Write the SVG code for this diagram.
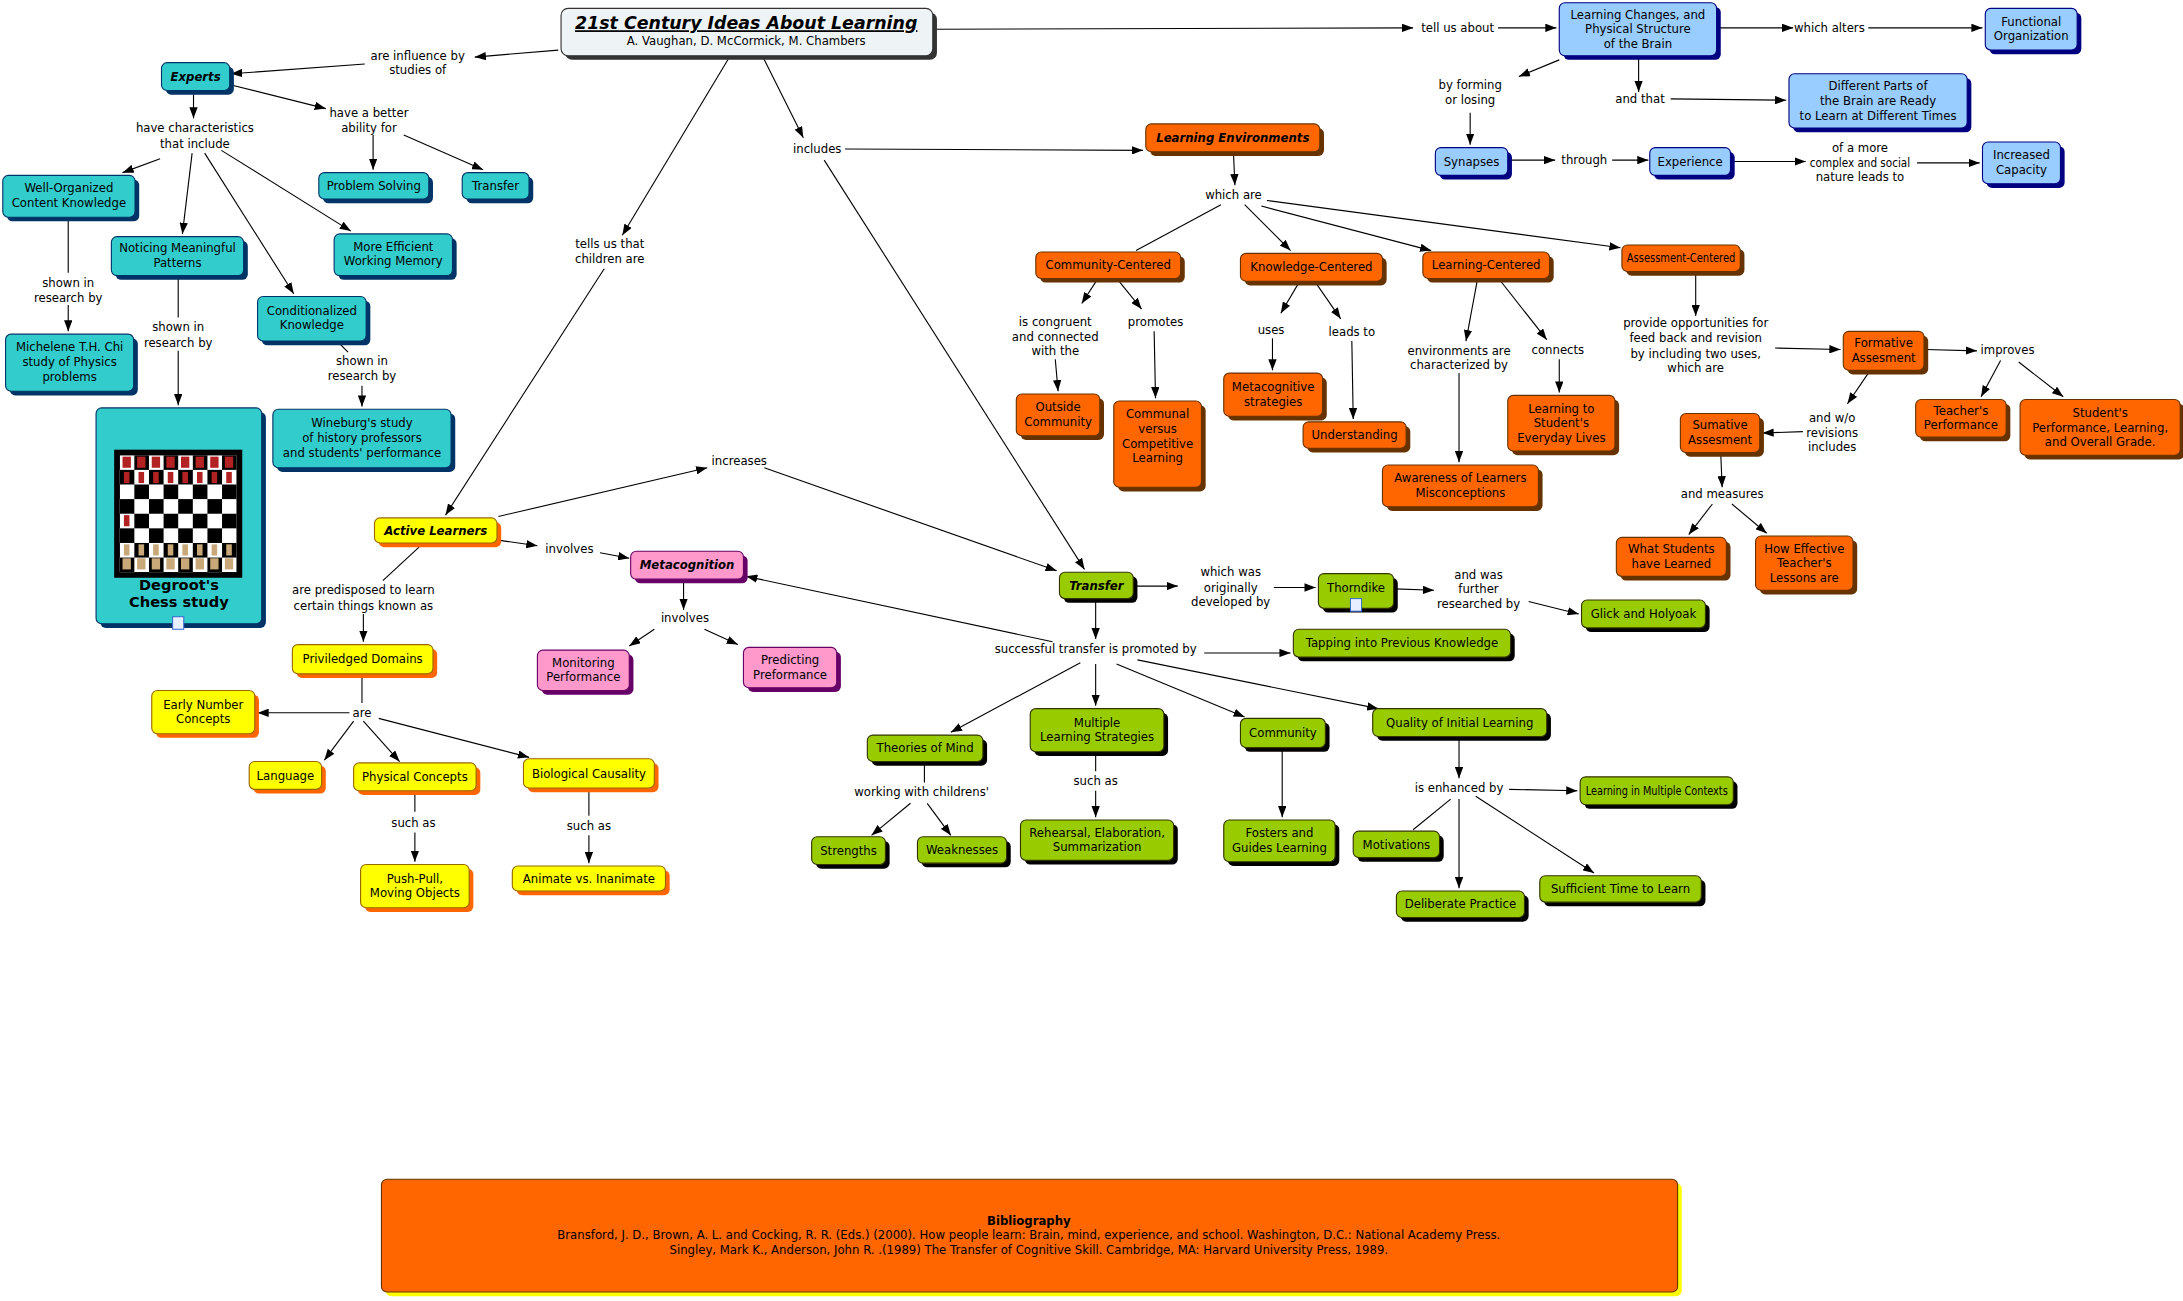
<svg xmlns="http://www.w3.org/2000/svg" width="2183" height="1301" viewBox="0 0 2183 1301">
<defs>
<marker id="a" markerUnits="userSpaceOnUse" markerWidth="8" markerHeight="6" refX="8" refY="3" orient="auto"><path d="M0,0 L8,3 L0,6 z" fill="#000"/></marker>
<pattern id="chk" x="86" y="327" width="21" height="21" patternUnits="userSpaceOnUse"><rect width="21" height="21" fill="#000"/><rect width="10.5" height="10.5" fill="#fff"/><rect x="10.5" y="10.5" width="10.5" height="10.5" fill="#fff"/></pattern>
</defs>
<style>
text{font-family:"DejaVu Sans","Verdana",sans-serif;font-size:8.4px;text-anchor:middle;fill:#000}
.bi{font-weight:bold;font-style:italic}
rect.n{stroke-width:0.8}
.t .n{fill:#33CCCC;stroke:#003366}.t .s{fill:#003366}
.b .n{fill:#99CCFF;stroke:#000080}.b .s{fill:#000080}
.o .n{fill:#FF6600;stroke:#663300}.o .s{fill:#663300}
.y .n{fill:#FFFF00;stroke:#996600}.y .s{fill:#FF6600}
.p .n{fill:#FF99CC;stroke:#660066}.p .s{fill:#660066}
.g .n{fill:#99CC00;stroke:#333300}.g .s{fill:#000}
#conn line{stroke:#000;stroke-width:0.8}
#conn line.ar{marker-end:url(#a)}
</style>
<rect width="2183" height="1301" fill="#fff"/>
<g transform="scale(1.3922)">
<g id="conn">
<line class="ar" x1="401" y1="36" x2="341" y2="41"/><line class="ar" x1="262" y1="46" x2="166" y2="53"/>
<line class="ar" x1="670" y1="21" x2="1015" y2="20"/><line class="ar" x1="1076" y1="20" x2="1118" y2="20"/>
<line class="ar" x1="1234" y1="20" x2="1288" y2="20"/><line class="ar" x1="1342" y1="20" x2="1424" y2="20"/>
<line class="ar" x1="1120" y1="43" x2="1091" y2="55"/><line class="ar" x1="1056" y1="81" x2="1056" y2="104"/>
<line class="ar" x1="1177" y1="41" x2="1177" y2="66"/><line class="ar" x1="1200" y1="71" x2="1283" y2="72"/>
<line class="ar" x1="1084" y1="115" x2="1117" y2="115"/><line class="ar" x1="1158" y1="115" x2="1184" y2="115"/>
<line class="ar" x1="1244" y1="116" x2="1297" y2="116"/><line class="ar" x1="1377" y1="117" x2="1422" y2="117"/>
<line class="ar" x1="548" y1="41" x2="577" y2="99"/><line class="ar" x1="607" y1="107" x2="821" y2="108"/>
<line class="ar" x1="592" y1="115" x2="779" y2="409"/>
<line class="ar" x1="524" y1="41" x2="447" y2="169"/><line class="ar" x1="434" y1="193" x2="320" y2="370"/>
<line class="ar" x1="139" y1="66" x2="139" y2="85"/>
<line class="ar" x1="166" y1="61" x2="234" y2="78"/>
<line class="ar" x1="268" y1="97" x2="268" y2="122"/><line class="ar" x1="290" y1="97" x2="347" y2="122"/>
<line class="ar" x1="115" y1="114" x2="88" y2="124"/><line class="ar" x1="138" y1="110" x2="131" y2="168"/>
<line class="ar" x1="147" y1="110" x2="211" y2="211"/><line class="ar" x1="159" y1="108" x2="252" y2="166"/>
<line x1="49" y1="157" x2="49" y2="196"/><line class="ar" x1="49" y1="219" x2="49" y2="238"/>
<line x1="128" y1="199" x2="128" y2="228"/><line class="ar" x1="128" y1="252" x2="128" y2="291"/>
<line x1="243" y1="246" x2="250" y2="253"/><line class="ar" x1="260" y1="277" x2="260" y2="292"/>
<line class="ar" x1="358" y1="371" x2="508" y2="336"/><line class="ar" x1="549" y1="336" x2="759" y2="410"/>
<line class="ar" x1="358" y1="388" x2="386" y2="392"/><line class="ar" x1="431" y1="397" x2="452" y2="401"/>
<line x1="301" y1="393" x2="275" y2="417"/><line class="ar" x1="261" y1="441" x2="261" y2="461"/>
<line class="ar" x1="491" y1="417" x2="491" y2="438"/><line class="ar" x1="470" y1="452" x2="452" y2="464"/><line class="ar" x1="506" y1="452" x2="530" y2="463"/>
<line x1="260" y1="485" x2="260" y2="505"/><line class="ar" x1="251" y1="512" x2="185" y2="512"/>
<line class="ar" x1="254" y1="518" x2="233" y2="546"/><line class="ar" x1="261" y1="518" x2="287" y2="547"/><line class="ar" x1="272" y1="516" x2="380" y2="544"/>
<line x1="298" y1="569" x2="298" y2="583"/><line class="ar" x1="298" y1="598" x2="298" y2="619"/>
<line x1="423" y1="567" x2="423" y2="586"/><line class="ar" x1="423" y1="600" x2="423" y2="620"/>
<line class="ar" x1="756" y1="461" x2="536" y2="414"/>
<line class="ar" x1="787" y1="431" x2="787" y2="459"/>
<line class="ar" x1="815" y1="421" x2="846" y2="421"/><line class="ar" x1="915" y1="422" x2="945" y2="422"/>
<line class="ar" x1="1002" y1="423" x2="1030" y2="424"/><line class="ar" x1="1098" y1="432" x2="1134" y2="441"/>
<line class="ar" x1="865" y1="469" x2="927" y2="469"/>
<line class="ar" x1="776" y1="476" x2="683" y2="526"/><line class="ar" x1="787" y1="477" x2="787" y2="507"/>
<line class="ar" x1="802" y1="477" x2="894" y2="515"/><line class="ar" x1="817" y1="474" x2="990" y2="509"/>
<line x1="664" y1="548" x2="664" y2="562"/><line class="ar" x1="654" y1="577" x2="626" y2="600"/><line class="ar" x1="666" y1="577" x2="683" y2="600"/>
<line x1="787" y1="541" x2="787" y2="554"/><line class="ar" x1="787" y1="568" x2="787" y2="587"/>
<line class="ar" x1="921" y1="538" x2="921" y2="587"/>
<line class="ar" x1="1048" y1="530" x2="1048" y2="559"/><line class="ar" x1="1084" y1="567" x2="1133" y2="568"/>
<line x1="1042" y1="574" x2="1015" y2="596"/><line class="ar" x1="1048" y1="574" x2="1048" y2="638"/><line class="ar" x1="1060" y1="572" x2="1145" y2="627"/>
<line class="ar" x1="886" y1="110" x2="887" y2="133"/>
<line x1="877" y1="147" x2="816" y2="180"/><line class="ar" x1="894" y1="147" x2="927" y2="180"/>
<line class="ar" x1="906" y1="148" x2="1028" y2="180"/><line class="ar" x1="910" y1="144" x2="1164" y2="178"/>
<line class="ar" x1="788" y1="201" x2="777" y2="218"/><line class="ar" x1="758" y1="258" x2="760" y2="281"/>
<line class="ar" x1="803" y1="201" x2="820" y2="222"/><line class="ar" x1="829" y1="238" x2="830" y2="286"/>
<line class="ar" x1="933" y1="203" x2="920" y2="225"/><line class="ar" x1="914" y1="243" x2="914" y2="266"/>
<line class="ar" x1="945" y1="203" x2="963" y2="229"/><line class="ar" x1="971" y1="245" x2="972" y2="301"/>
<line class="ar" x1="1061" y1="202" x2="1053" y2="245"/><line class="ar" x1="1048" y1="268" x2="1048" y2="332"/>
<line class="ar" x1="1078" y1="202" x2="1111" y2="244"/><line class="ar" x1="1120" y1="258" x2="1120" y2="282"/>
<line class="ar" x1="1218" y1="197" x2="1218" y2="227"/><line class="ar" x1="1275" y1="250" x2="1322" y2="251"/>
<line class="ar" x1="1383" y1="251" x2="1420" y2="252"/><line class="ar" x1="1437" y1="259" x2="1423" y2="285"/><line class="ar" x1="1450" y1="260" x2="1482" y2="285"/>
<line class="ar" x1="1342" y1="268" x2="1327" y2="290"/><line class="ar" x1="1295" y1="310" x2="1266" y2="311"/>
<line class="ar" x1="1236" y1="326" x2="1237" y2="350"/><line class="ar" x1="1230" y1="362" x2="1213" y2="384"/><line class="ar" x1="1244" y1="362" x2="1269" y2="383"/>
</g>
<g id="labels">
<text x="300" y="43">are influence by</text><text x="300" y="53">studies of</text>
<text x="1047" y="23">tell us about</text>
<text x="1314" y="23">which alters</text>
<text x="1056" y="64">by forming</text><text x="1056" y="75">or losing</text>
<text x="1178" y="74">and that</text>
<text x="1138" y="118">through</text>
<text x="1336" y="109">of a more</text><text x="1336" y="120" textLength="72" lengthAdjust="spacingAndGlyphs">complex and social</text><text x="1336" y="130">nature leads to</text>
<text x="587" y="110">includes</text>
<text x="438" y="178">tells us that</text><text x="438" y="189">children are</text>
<text x="140" y="95">have characteristics</text><text x="140" y="106">that include</text>
<text x="265" y="84">have a better</text><text x="265" y="95">ability for</text>
<text x="49" y="206">shown in</text><text x="49" y="217">research by</text>
<text x="128" y="238">shown in</text><text x="128" y="249">research by</text>
<text x="260" y="262">shown in</text><text x="260" y="273">research by</text>
<text x="531" y="334">increases</text>
<text x="409" y="397">involves</text>
<text x="261" y="427">are predisposed to learn</text><text x="261" y="438">certain things known as</text>
<text x="492" y="447">involves</text>
<text x="260" y="515">are</text>
<text x="297" y="594">such as</text>
<text x="423" y="596">such as</text>
<text x="787" y="469">successful transfer is promoted by</text>
<text x="884" y="414">which was</text><text x="884" y="425">originally</text><text x="884" y="435">developed by</text>
<text x="1062" y="416">and was</text><text x="1062" y="426">further</text><text x="1062" y="437">researched by</text>
<text x="662" y="572">working with childrens'</text>
<text x="787" y="564">such as</text>
<text x="1048" y="569">is enhanced by</text>
<text x="886" y="143">which are</text>
<text x="758" y="234">is congruent</text><text x="758" y="245">and connected</text><text x="758" y="255">with the</text>
<text x="830" y="234">promotes</text>
<text x="913" y="240">uses</text>
<text x="971" y="241">leads to</text>
<text x="1048" y="255">environments are</text><text x="1048" y="265">characterized by</text>
<text x="1119" y="254">connects</text>
<text x="1218" y="235">provide opportunities for</text><text x="1218" y="246">feed back and revision</text><text x="1218" y="257">by including two uses,</text><text x="1218" y="267">which are</text>
<text x="1442" y="254">improves</text>
<text x="1316" y="303">and w/o</text><text x="1316" y="314">revisions</text><text x="1316" y="324">includes</text>
<text x="1237" y="358">and measures</text>
</g>
<g id="title"><rect x="406" y="9" width="267" height="34" rx="5" fill="#333"/><rect x="403" y="6" width="267" height="34" rx="5" fill="#EEF4F6" stroke="#333" stroke-width="0.8"/>
<text x="536" y="21" class="bi" style="font-size:12.5px;text-decoration:underline">21st Century Ideas About Learning</text><text x="536" y="32">A. Vaughan, D. McCormick, M. Chambers</text></g>
<g id="experts" class="t"><rect class="s" x="119" y="48" width="49" height="20" rx="4"/><rect class="n" x="116" y="45" width="49" height="20" rx="4"/><text x="140.5" y="58" class="bi">Experts</text></g>
<g id="wock" class="t"><rect class="s" x="5" y="129" width="95" height="30" rx="4"/><rect class="n" x="2" y="126" width="95" height="30" rx="4"/><text x="49.5" y="138">Well-Organized</text><text x="49.5" y="148.5">Content Knowledge</text></g>
<g id="noticing" class="t"><rect class="s" x="83" y="173" width="95" height="28" rx="4"/><rect class="n" x="80" y="170" width="95" height="28" rx="4"/><text x="127.5" y="181">Noticing Meaningful</text><text x="127.5" y="191.5">Patterns</text></g>
<g id="moreeff" class="t"><rect class="s" x="243" y="171" width="85" height="30" rx="4"/><rect class="n" x="240" y="168" width="85" height="30" rx="4"/><text x="282.5" y="180">More Efficient</text><text x="282.5" y="190.5">Working Memory</text></g>
<g id="cond" class="t"><rect class="s" x="188" y="216" width="78" height="32" rx="4"/><rect class="n" x="185" y="213" width="78" height="32" rx="4"/><text x="224" y="226">Conditionalized</text><text x="224" y="236.5">Knowledge</text></g>
<g id="probsolv" class="t"><rect class="s" x="232" y="127" width="79" height="19" rx="4"/><rect class="n" x="229" y="124" width="79" height="19" rx="4"/><text x="268.5" y="136.5">Problem Solving</text></g>
<g id="transfer1" class="t"><rect class="s" x="335" y="127" width="48" height="19" rx="4"/><rect class="n" x="332" y="124" width="48" height="19" rx="4"/><text x="356" y="136.5">Transfer</text></g>
<g id="chi" class="t"><rect class="s" x="7" y="243" width="92" height="41" rx="4"/><rect class="n" x="4" y="240" width="92" height="41" rx="4"/><text x="50" y="252">Michelene T.H. Chi</text><text x="50" y="263">study of Physics</text><text x="50" y="273.5">problems</text></g>
<g id="degroot" class="t"><rect class="s" x="72" y="296" width="119" height="155" rx="4"/><rect class="n" x="69" y="293" width="119" height="155" rx="4"/>
<rect x="82" y="323" width="92" height="92" fill="#000"/><rect x="86" y="327" width="84" height="84" fill="url(#chk)"/>
<g fill="#B22222"><rect x="88" y="328" width="6" height="8"/><rect x="98.5" y="328" width="6" height="8"/><rect x="109" y="328" width="6" height="8"/><rect x="119.5" y="328" width="6" height="8"/><rect x="130" y="328" width="6" height="8"/><rect x="140.5" y="328" width="6" height="8"/><rect x="151" y="328" width="6" height="8"/><rect x="161.5" y="328" width="6" height="8"/>
<rect x="89" y="339" width="4" height="8"/><rect x="99.5" y="339" width="4" height="8"/><rect x="110" y="339" width="4" height="8"/><rect x="120.5" y="339" width="4" height="8"/><rect x="131" y="339" width="4" height="8"/><rect x="141.5" y="339" width="4" height="8"/><rect x="152" y="339" width="4" height="8"/><rect x="162.5" y="339" width="4" height="8"/><rect x="89" y="370" width="4" height="8"/></g>
<g fill="#C8A878"><rect x="88" y="401" width="6" height="8"/><rect x="98.5" y="401" width="6" height="8"/><rect x="109" y="401" width="6" height="8"/><rect x="119.5" y="401" width="6" height="8"/><rect x="130" y="401" width="6" height="8"/><rect x="140.5" y="401" width="6" height="8"/><rect x="151" y="401" width="6" height="8"/><rect x="161.5" y="401" width="6" height="8"/>
<rect x="89" y="391" width="4" height="8"/><rect x="99.5" y="391" width="4" height="8"/><rect x="110" y="391" width="4" height="8"/><rect x="120.5" y="391" width="4" height="8"/><rect x="131" y="391" width="4" height="8"/><rect x="141.5" y="391" width="4" height="8"/><rect x="152" y="391" width="4" height="8"/><rect x="162.5" y="391" width="4" height="8"/></g>
<text x="128.5" y="424" style="font-weight:bold;font-size:10.5px">Degroot's</text><text x="128.5" y="436" style="font-weight:bold;font-size:10.5px">Chess study</text>
<rect x="124" y="443" width="8" height="9" fill="#E8F0FF" stroke="#3366CC" stroke-width="0.7"/></g>
<g id="wineburg" class="t"><rect class="s" x="199" y="297" width="128" height="42" rx="4"/><rect class="n" x="196" y="294" width="128" height="42" rx="4"/><text x="260" y="306.5">Wineburg's study</text><text x="260" y="317.5">of history professors</text><text x="260" y="328">and students' performance</text></g>
<g id="active" class="y"><rect class="s" x="272" y="375" width="88" height="18" rx="4"/><rect class="n" x="269" y="372" width="88" height="18" rx="4"/><text x="313" y="384.5" class="bi">Active Learners</text></g>
<g id="metacog" class="p"><rect class="s" x="456" y="399" width="81" height="20" rx="4"/><rect class="n" x="453" y="396" width="81" height="20" rx="4"/><text x="493.5" y="409" class="bi">Metacognition</text></g>
<g id="monitor" class="p"><rect class="s" x="389" y="470" width="66" height="29" rx="4"/><rect class="n" x="386" y="467" width="66" height="29" rx="4"/><text x="419" y="479">Monitoring</text><text x="419" y="489.5">Performance</text></g>
<g id="predict" class="p"><rect class="s" x="537" y="468" width="67" height="29" rx="4"/><rect class="n" x="534" y="465" width="67" height="29" rx="4"/><text x="567.5" y="477">Predicting</text><text x="567.5" y="487.5">Preformance</text></g>
<g id="priv" class="y"><rect class="s" x="213" y="466" width="101" height="21" rx="4"/><rect class="n" x="210" y="463" width="101" height="21" rx="4"/><text x="260.5" y="476.5">Priviledged Domains</text></g>
<g id="early" class="y"><rect class="s" x="112" y="499" width="74" height="31" rx="4"/><rect class="n" x="109" y="496" width="74" height="31" rx="4"/><text x="146" y="509">Early Number</text><text x="146" y="519.5">Concepts</text></g>
<g id="language" class="y"><rect class="s" x="182" y="550" width="52" height="20" rx="4"/><rect class="n" x="179" y="547" width="52" height="20" rx="4"/><text x="205" y="560">Language</text></g>
<g id="physc" class="y"><rect class="s" x="257" y="551" width="88" height="20" rx="4"/><rect class="n" x="254" y="548" width="88" height="20" rx="4"/><text x="298" y="561">Physical Concepts</text></g>
<g id="bioc" class="y"><rect class="s" x="379" y="548" width="94" height="21" rx="4"/><rect class="n" x="376" y="545" width="94" height="21" rx="4"/><text x="423" y="558.5">Biological Causality</text></g>
<g id="pushpull" class="y"><rect class="s" x="262" y="624" width="78" height="31" rx="4"/><rect class="n" x="259" y="621" width="78" height="31" rx="4"/><text x="298" y="634">Push-Pull,</text><text x="298" y="644.5">Moving Objects</text></g>
<g id="animate" class="y"><rect class="s" x="371" y="625" width="110" height="18" rx="4"/><rect class="n" x="368" y="622" width="110" height="18" rx="4"/><text x="423" y="634">Animate vs. Inanimate</text></g>
<g id="lcb" class="b"><rect class="s" x="1123" y="5" width="113" height="38" rx="4"/><rect class="n" x="1120" y="2" width="113" height="38" rx="4"/><text x="1176.5" y="13.5">Learning Changes, and</text><text x="1176.5" y="24">Physical Structure</text><text x="1176.5" y="34.5">of the Brain</text></g>
<g id="funcorg" class="b"><rect class="s" x="1429" y="9" width="66" height="30" rx="4"/><rect class="n" x="1426" y="6" width="66" height="30" rx="4"/><text x="1459" y="18.5">Functional</text><text x="1459" y="29">Organization</text></g>
<g id="diffparts" class="b"><rect class="s" x="1288" y="56" width="128" height="39" rx="4"/><rect class="n" x="1285" y="53" width="128" height="39" rx="4"/><text x="1349" y="65">Different Parts of</text><text x="1349" y="75.5">the Brain are Ready</text><text x="1349" y="86">to Learn at Different Times</text></g>
<g id="synapses" class="b"><rect class="s" x="1034" y="109" width="52" height="20" rx="4"/><rect class="n" x="1031" y="106" width="52" height="20" rx="4"/><text x="1057" y="119">Synapses</text></g>
<g id="experience" class="b"><rect class="s" x="1188" y="109" width="58" height="20" rx="4"/><rect class="n" x="1185" y="106" width="58" height="20" rx="4"/><text x="1214" y="119">Experience</text></g>
<g id="inccap" class="b"><rect class="s" x="1427" y="105" width="56" height="30" rx="4"/><rect class="n" x="1424" y="102" width="56" height="30" rx="4"/><text x="1452" y="114.5">Increased</text><text x="1452" y="125">Capacity</text></g>
<g id="learnenv" class="o"><rect class="s" x="826" y="92" width="125" height="20" rx="4"/><rect class="n" x="823" y="89" width="125" height="20" rx="4"/><text x="885.5" y="102" class="bi">Learning Environments</text></g>
<g id="cc" class="o"><rect class="s" x="747" y="184" width="104" height="19" rx="4"/><rect class="n" x="744" y="181" width="104" height="19" rx="4"/><text x="796" y="193.5">Community-Centered</text></g>
<g id="kc" class="o"><rect class="s" x="894" y="185" width="102" height="20" rx="4"/><rect class="n" x="891" y="182" width="102" height="20" rx="4"/><text x="942" y="195">Knowledge-Centered</text></g>
<g id="lrnc" class="o"><rect class="s" x="1025" y="184" width="91" height="19" rx="4"/><rect class="n" x="1022" y="181" width="91" height="19" rx="4"/><text x="1067.5" y="193.5">Learning-Centered</text></g>
<g id="ac" class="o"><rect class="s" x="1168" y="179" width="85" height="19" rx="4"/><rect class="n" x="1165" y="176" width="85" height="19" rx="4"/><text x="1207.5" y="188.5" textLength="78" lengthAdjust="spacingAndGlyphs">Assessment-Centered</text></g>
<g id="outside" class="o"><rect class="s" x="733" y="286" width="60" height="30" rx="4"/><rect class="n" x="730" y="283" width="60" height="30" rx="4"/><text x="760" y="295.5">Outside</text><text x="760" y="306">Community</text></g>
<g id="communal" class="o"><rect class="s" x="803" y="291" width="63" height="62" rx="4"/><rect class="n" x="800" y="288" width="63" height="62" rx="4"/><text x="831.5" y="300.5">Communal</text><text x="831.5" y="311">versus</text><text x="831.5" y="321.5">Competitive</text><text x="831.5" y="332">Learning</text></g>
<g id="mstrat" class="o"><rect class="s" x="882" y="271" width="71" height="31" rx="4"/><rect class="n" x="879" y="268" width="71" height="31" rx="4"/><text x="914.5" y="281">Metacognitive</text><text x="914.5" y="291.5">strategies</text></g>
<g id="understanding" class="o"><rect class="s" x="939" y="306" width="74" height="19" rx="4"/><rect class="n" x="936" y="303" width="74" height="19" rx="4"/><text x="973" y="315.5">Understanding</text></g>
<g id="awareness" class="o"><rect class="s" x="996" y="337" width="112" height="30" rx="4"/><rect class="n" x="993" y="334" width="112" height="30" rx="4"/><text x="1049" y="346.5">Awareness of Learners</text><text x="1049" y="357">Misconceptions</text></g>
<g id="learnto" class="o"><rect class="s" x="1086" y="287" width="77" height="40" rx="4"/><rect class="n" x="1083" y="284" width="77" height="40" rx="4"/><text x="1121.5" y="296.5">Learning to</text><text x="1121.5" y="307">Student's</text><text x="1121.5" y="317.5">Everyday Lives</text></g>
<g id="formative" class="o"><rect class="s" x="1327" y="241" width="58" height="28" rx="4"/><rect class="n" x="1324" y="238" width="58" height="28" rx="4"/><text x="1353" y="249.5">Formative</text><text x="1353" y="260">Assesment</text></g>
<g id="sumative" class="o"><rect class="s" x="1210" y="300" width="57" height="28" rx="4"/><rect class="n" x="1207" y="297" width="57" height="28" rx="4"/><text x="1235.5" y="308.5">Sumative</text><text x="1235.5" y="319">Assesment</text></g>
<g id="teachp" class="o"><rect class="s" x="1379" y="290" width="65" height="27" rx="4"/><rect class="n" x="1376" y="287" width="65" height="27" rx="4"/><text x="1408.5" y="298">Teacher's</text><text x="1408.5" y="308.5">Performance</text></g>
<g id="studp" class="o"><rect class="s" x="1454" y="290" width="115" height="40" rx="4"/><rect class="n" x="1451" y="287" width="115" height="40" rx="4"/><text x="1508.5" y="299.5">Student's</text><text x="1508.5" y="310">Performance, Learning,</text><text x="1508.5" y="320.5">and Overall Grade.</text></g>
<g id="whats" class="o"><rect class="s" x="1164" y="389" width="79" height="28" rx="4"/><rect class="n" x="1161" y="386" width="79" height="28" rx="4"/><text x="1200.5" y="397.5">What Students</text><text x="1200.5" y="408">have Learned</text></g>
<g id="howe" class="o"><rect class="s" x="1264" y="388" width="70" height="39" rx="4"/><rect class="n" x="1261" y="385" width="70" height="39" rx="4"/><text x="1296" y="397">How Effective</text><text x="1296" y="407.5">Teacher's</text><text x="1296" y="418">Lessons are</text></g>
<g id="transfer2" class="g"><rect class="s" x="764" y="414" width="53" height="19" rx="4"/><rect class="n" x="761" y="411" width="53" height="19" rx="4"/><text x="787.5" y="423.5" class="bi">Transfer</text></g>
<g id="thorndike" class="g"><rect class="s" x="950" y="415" width="54" height="25" rx="4"/><rect class="n" x="947" y="412" width="54" height="25" rx="4"/><text x="974" y="425">Thorndike</text><rect x="970" y="430" width="8" height="9" fill="#E8F0FF" stroke="#3366CC" stroke-width="0.7"/></g>
<g id="glick" class="g"><rect class="s" x="1139" y="434" width="89" height="20" rx="4"/><rect class="n" x="1136" y="431" width="89" height="20" rx="4"/><text x="1180.5" y="444">Glick and Holyoak</text></g>
<g id="tapping" class="g"><rect class="s" x="932" y="455" width="156" height="20" rx="4"/><rect class="n" x="929" y="452" width="156" height="20" rx="4"/><text x="1007" y="465">Tapping into Previous Knowledge</text></g>
<g id="theories" class="g"><rect class="s" x="626" y="531" width="83" height="19" rx="4"/><rect class="n" x="623" y="528" width="83" height="19" rx="4"/><text x="664.5" y="540.5">Theories of Mind</text></g>
<g id="multiple" class="g"><rect class="s" x="743" y="512" width="96" height="31" rx="4"/><rect class="n" x="740" y="509" width="96" height="31" rx="4"/><text x="788" y="522">Multiple</text><text x="788" y="532.5">Learning Strategies</text></g>
<g id="community" class="g"><rect class="s" x="894" y="519" width="61" height="21" rx="4"/><rect class="n" x="891" y="516" width="61" height="21" rx="4"/><text x="921.5" y="529.5">Community</text></g>
<g id="quality" class="g"><rect class="s" x="989" y="512" width="125" height="20" rx="4"/><rect class="n" x="986" y="509" width="125" height="20" rx="4"/><text x="1048.5" y="522">Quality of Initial Learning</text></g>
<g id="strengths" class="g"><rect class="s" x="586" y="604" width="53" height="20" rx="4"/><rect class="n" x="583" y="601" width="53" height="20" rx="4"/><text x="609.5" y="614">Strengths</text></g>
<g id="weakn" class="g"><rect class="s" x="662" y="604" width="64" height="19" rx="4"/><rect class="n" x="659" y="601" width="64" height="19" rx="4"/><text x="691" y="613.5">Weaknesses</text></g>
<g id="rehearsal" class="g"><rect class="s" x="736" y="592" width="110" height="29" rx="4"/><rect class="n" x="733" y="589" width="110" height="29" rx="4"/><text x="788" y="601">Rehearsal, Elaboration,</text><text x="788" y="611.5">Summarization</text></g>
<g id="fosters" class="g"><rect class="s" x="882" y="592" width="80" height="30" rx="4"/><rect class="n" x="879" y="589" width="80" height="30" rx="4"/><text x="919" y="601.5">Fosters and</text><text x="919" y="612">Guides Learning</text></g>
<g id="motiv" class="g"><rect class="s" x="975" y="600" width="62" height="19" rx="4"/><rect class="n" x="972" y="597" width="62" height="19" rx="4"/><text x="1003" y="609.5">Motivations</text></g>
<g id="deliberate" class="g"><rect class="s" x="1006" y="643" width="92" height="19" rx="4"/><rect class="n" x="1003" y="640" width="92" height="19" rx="4"/><text x="1049" y="652.5">Deliberate Practice</text></g>
<g id="sufficient" class="g"><rect class="s" x="1109" y="632" width="116" height="19" rx="4"/><rect class="n" x="1106" y="629" width="116" height="19" rx="4"/><text x="1164" y="641.5">Sufficient Time to Learn</text></g>
<g id="lmc" class="g"><rect class="s" x="1138" y="561" width="110" height="20" rx="4"/><rect class="n" x="1135" y="558" width="110" height="20" rx="4"/><text x="1190" y="571" textLength="102" lengthAdjust="spacingAndGlyphs">Learning in Multiple Contexts</text></g>
<g id="biblio"><rect x="277" y="850" width="931" height="81" rx="4" fill="#FFFF00"/><rect x="274" y="847" width="931" height="81" rx="4" fill="#FF6600" stroke="#663300" stroke-width="0.8"/>
<text x="739" y="880" style="font-weight:bold">Bibliography</text>
<text x="739" y="890">Bransford, J. D., Brown, A. L. and Cocking, R. R. (Eds.) (2000). How people learn: Brain, mind, experience, and school. Washington, D.C.: National Academy Press.</text>
<text x="739" y="901">Singley,  Mark K.,  Anderson, John R. .(1989) The Transfer of Cognitive Skill. Cambridge, MA: Harvard University Press, 1989.</text></g>
</g>
</svg>
